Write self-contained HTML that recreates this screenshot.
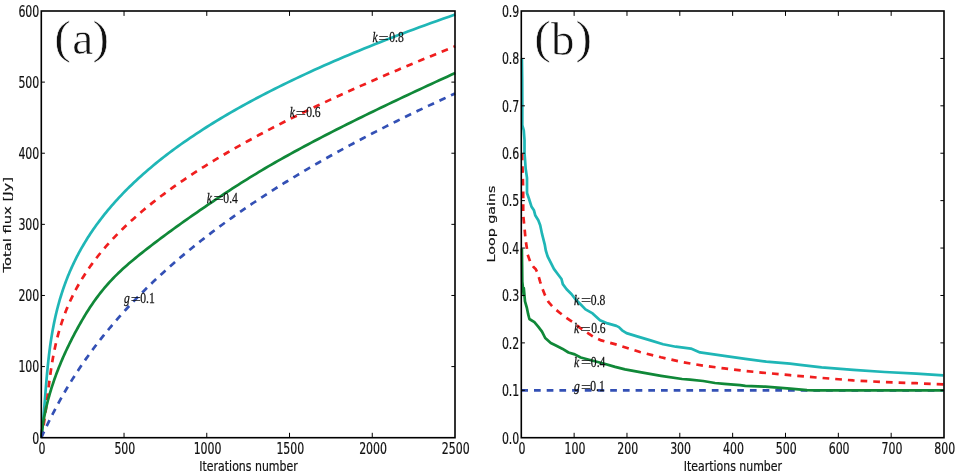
<!DOCTYPE html>
<html><head><meta charset="utf-8"><title>Total flux and loop gains</title><style>
html,body{margin:0;padding:0;background:#fff;width:958px;height:475px;overflow:hidden}
svg{display:block}
</style></head><body>
<svg width="958" height="475" viewBox="0 0 958 475">
<rect width="958" height="475" fill="#fff"/>
<g fill="#111" font-family="'Liberation Serif',serif" stroke="#fff" stroke-width="0.6">
<text transform="translate(54.2,52.9) scale(1.09,1)" font-size="45.5">(</text>
<text transform="translate(72.2,54.3) scale(1.02,1)" font-size="46.5">a</text>
<text transform="translate(92.6,52.9) scale(1.09,1)" font-size="45.5">)</text>
<text transform="translate(534.3,53.1) scale(1.09,1)" font-size="45.5">(</text>
<text transform="translate(550.9,54.6) scale(1.0,1)" font-size="47">b</text>
<text transform="translate(575.6,53.1) scale(1.09,1)" font-size="45.5">)</text>
</g>
<g fill="none" stroke-linejoin="round">
<polyline points="41.3,437.7 41.55,435.57 41.8,433.45 42.04,431.32 42.27,429.19 42.49,427.07 42.7,424.94 42.91,422.82 43.11,420.69 43.31,418.56 43.5,416.44 43.69,414.31 43.87,412.18 44.05,410.06 44.23,407.93 44.41,405.81 44.58,403.68 44.75,401.55 44.92,399.43 45.09,397.3 45.26,395.17 45.43,393.05 45.59,390.92 45.77,388.8 45.94,386.67 46.11,384.54 46.29,382.42 46.47,380.29 46.65,378.16 46.84,376.04 47.03,373.91 47.23,371.79 47.43,369.66 47.64,367.53 47.85,365.41 48.07,363.28 48.3,361.15 48.53,359.03 48.78,356.9 49.03,354.77 49.29,352.65 49.56,350.52 49.83,348.4 50.12,346.27 50.42,344.14 50.73,342.02 51.05,339.89 51.39,337.76 51.73,335.64 52.09,333.51 52.46,331.39 52.84,329.26 53.24,327.13 53.65,325.01 54.08,322.88 54.52,320.75 54.98,318.63 55.45,316.5 55.94,314.38 56.45,312.25 56.97,310.12 57.51,308 58.07,305.87 58.65,303.74 59.24,301.62 59.86,299.49 60.49,297.37 61.15,295.24 61.82,293.11 62.52,290.99 63.23,288.86 63.97,286.73 64.73,284.61 65.51,282.48 66.31,280.35 67.14,278.23 67.99,276.1 68.87,273.98 69.76,271.85 70.69,269.72 71.63,267.6 72.61,265.47 73.61,263.34 74.63,261.22 75.68,259.09 76.76,256.97 77.86,254.84 78.99,252.71 80.15,250.59 81.34,248.46 82.56,246.33 83.8,244.21 85.08,242.08 86.38,239.96 87.71,237.83 89.08,235.7 90.47,233.58 91.89,231.45 93.35,229.32 94.84,227.2 96.36,225.07 97.91,222.95 99.5,220.82 101.11,218.69 102.76,216.57 104.45,214.44 106.17,212.31 107.92,210.19 109.71,208.06 111.53,205.93 113.39,203.81 115.28,201.68 117.21,199.56 119.18,197.43 121.18,195.3 123.22,193.18 125.29,191.05 127.41,188.92 129.56,186.8 131.75,184.67 133.97,182.55 136.24,180.42 138.55,178.29 140.89,176.17 143.28,174.04 145.7,171.91 148.16,169.79 150.67,167.66 153.22,165.54 155.8,163.41 158.43,161.28 161.1,159.16 163.82,157.03 166.57,154.9 169.37,152.78 172.21,150.65 175.09,148.53 178.02,146.4 180.99,144.27 184,142.15 187.06,140.02 190.17,137.89 193.31,135.77 196.51,133.64 199.75,131.51 203.03,129.39 206.36,127.26 209.74,125.14 213.16,123.01 216.63,120.88 220.15,118.76 223.71,116.63 227.32,114.5 230.98,112.38 234.69,110.25 238.44,108.13 242.25,106 246.1,103.87 250,101.75 253.95,99.62 257.96,97.49 262.01,95.37 266.11,93.24 270.26,91.12 274.46,88.99 278.71,86.86 283.01,84.74 287.37,82.61 291.77,80.48 296.23,78.36 300.74,76.23 305.3,74.11 309.91,71.98 314.58,69.85 319.3,67.73 324.07,65.6 328.9,63.47 333.78,61.35 338.71,59.22 343.7,57.1 348.74,54.97 353.83,52.84 358.98,50.72 364.19,48.59 369.45,46.46 374.76,44.34 380.13,42.21 385.56,40.08 391.04,37.96 396.58,35.83 402.17,33.71 407.82,31.58 413.53,29.45 419.29,27.33 425.11,25.2 430.99,23.07 436.93,20.95 442.92,18.82 448.97,16.7 455.08,14.57" stroke="#1fb6b6" stroke-width="2.7"/>
<polyline points="41.3,437.7 41.7,435.73 42.08,433.77 42.45,431.8 42.81,429.83 43.15,427.87 43.49,425.9 43.8,423.93 44.11,421.97 44.41,420 44.7,418.03 44.99,416.06 45.26,414.1 45.53,412.13 45.79,410.16 46.05,408.2 46.3,406.23 46.55,404.26 46.79,402.3 47.04,400.33 47.28,398.36 47.52,396.4 47.76,394.43 48,392.46 48.24,390.5 48.48,388.53 48.72,386.56 48.97,384.59 49.22,382.63 49.48,380.66 49.74,378.69 50,376.73 50.28,374.76 50.56,372.79 50.84,370.83 51.14,368.86 51.44,366.89 51.75,364.93 52.07,362.96 52.4,360.99 52.75,359.03 53.1,357.06 53.47,355.09 53.84,353.12 54.24,351.16 54.64,349.19 55.06,347.22 55.5,345.26 55.94,343.29 56.41,341.32 56.89,339.36 57.39,337.39 57.9,335.42 58.44,333.46 58.99,331.49 59.56,329.52 60.15,327.56 60.75,325.59 61.38,323.62 62.03,321.65 62.7,319.69 63.39,317.72 64.1,315.75 64.84,313.79 65.59,311.82 66.37,309.85 67.18,307.89 68.01,305.92 68.86,303.95 69.73,301.99 70.63,300.02 71.56,298.05 72.51,296.09 73.49,294.12 74.5,292.15 75.53,290.18 76.59,288.22 77.67,286.25 78.78,284.28 79.93,282.32 81.1,280.35 82.29,278.38 83.52,276.42 84.78,274.45 86.06,272.48 87.38,270.52 88.72,268.55 90.1,266.58 91.51,264.62 92.94,262.65 94.41,260.68 95.91,258.71 97.44,256.75 99.01,254.78 100.6,252.81 102.23,250.85 103.89,248.88 105.58,246.91 107.31,244.95 109.07,242.98 110.86,241.01 112.68,239.05 114.54,237.08 116.43,235.11 118.36,233.15 120.32,231.18 122.31,229.21 124.34,227.24 126.4,225.28 128.5,223.31 130.63,221.34 132.8,219.38 135,217.41 137.24,215.44 139.51,213.48 141.81,211.51 144.16,209.54 146.53,207.58 148.94,205.61 151.39,203.64 153.88,201.68 156.39,199.71 158.95,197.74 161.54,195.78 164.16,193.81 166.82,191.84 169.52,189.87 172.25,187.91 175.02,185.94 177.82,183.97 180.66,182.01 183.54,180.04 186.45,178.07 189.39,176.11 192.38,174.14 195.39,172.17 198.44,170.21 201.53,168.24 204.65,166.27 207.81,164.31 211.01,162.34 214.23,160.37 217.5,158.4 220.8,156.44 224.13,154.47 227.5,152.5 230.9,150.54 234.33,148.57 237.8,146.6 241.31,144.64 244.85,142.67 248.42,140.7 252.03,138.74 255.67,136.77 259.34,134.8 263.05,132.84 266.79,130.87 270.56,128.9 274.36,126.93 278.2,124.97 282.07,123 285.97,121.03 289.91,119.07 293.87,117.1 297.87,115.13 301.9,113.17 305.95,111.2 310.04,109.23 314.16,107.27 318.31,105.3 322.49,103.33 326.7,101.37 330.94,99.4 335.2,97.43 339.5,95.46 343.82,93.5 348.18,91.53 352.56,89.56 356.96,87.6 361.4,85.63 365.86,83.66 370.35,81.7 374.86,79.73 379.4,77.76 383.96,75.8 388.55,73.83 393.17,71.86 397.8,69.9 402.47,67.93 407.15,65.96 411.86,63.99 416.59,62.03 421.35,60.06 426.12,58.09 430.92,56.13 435.74,54.16 440.57,52.19 445.43,50.23 450.31,48.26 455.21,46.29" stroke="#f01e1e" stroke-width="2.7" stroke-dasharray="6.7 6.0"/>
<polyline points="41.3,437.7 41.47,435.87 41.67,434.03 41.88,432.2 42.1,430.37 42.34,428.54 42.6,426.7 42.87,424.87 43.16,423.04 43.46,421.21 43.78,419.37 44.11,417.54 44.46,415.71 44.82,413.87 45.2,412.04 45.59,410.21 46,408.38 46.43,406.54 46.86,404.71 47.32,402.88 47.78,401.04 48.26,399.21 48.76,397.38 49.27,395.55 49.8,393.71 50.34,391.88 50.89,390.05 51.46,388.22 52.04,386.38 52.64,384.55 53.25,382.72 53.87,380.88 54.51,379.05 55.16,377.22 55.83,375.39 56.51,373.55 57.2,371.72 57.91,369.89 58.63,368.06 59.37,366.22 60.12,364.39 60.88,362.56 61.65,360.72 62.44,358.89 63.24,357.06 64.06,355.23 64.89,353.39 65.73,351.56 66.58,349.73 67.45,347.89 68.33,346.06 69.22,344.23 70.13,342.4 71.04,340.56 71.98,338.73 72.92,336.9 73.88,335.07 74.84,333.23 75.83,331.4 76.82,329.57 77.83,327.73 78.84,325.9 79.87,324.07 80.92,322.24 81.98,320.4 83.05,318.57 84.14,316.74 85.25,314.9 86.37,313.07 87.52,311.24 88.69,309.41 89.88,307.57 91.1,305.74 92.35,303.91 93.62,302.08 94.92,300.24 96.24,298.41 97.6,296.58 99,294.74 100.42,292.91 101.88,291.08 103.38,289.25 104.92,287.41 106.49,285.58 108.11,283.75 109.76,281.92 111.46,280.08 113.2,278.25 114.99,276.42 116.83,274.58 118.71,272.75 120.64,270.92 122.62,269.09 124.65,267.25 126.72,265.42 128.83,263.59 130.98,261.75 133.17,259.92 135.39,258.09 137.64,256.26 139.91,254.42 142.22,252.59 144.54,250.76 146.89,248.93 149.26,247.09 151.64,245.26 154.04,243.43 156.45,241.59 158.88,239.76 161.33,237.93 163.79,236.1 166.26,234.26 168.76,232.43 171.26,230.6 173.78,228.77 176.31,226.93 178.86,225.1 181.42,223.27 184,221.43 186.58,219.6 189.18,217.77 191.8,215.94 194.42,214.1 197.06,212.27 199.71,210.44 202.37,208.6 205.04,206.77 207.72,204.94 210.42,203.11 213.13,201.27 215.85,199.44 218.59,197.61 221.34,195.78 224.11,193.94 226.9,192.11 229.7,190.28 232.53,188.44 235.38,186.61 238.24,184.78 241.14,182.95 244.05,181.11 246.99,179.28 249.95,177.45 252.94,175.62 255.96,173.78 259.01,171.95 262.08,170.12 265.18,168.28 268.31,166.45 271.47,164.62 274.66,162.79 277.87,160.95 281.11,159.12 284.37,157.29 287.66,155.45 290.97,153.62 294.31,151.79 297.67,149.96 301.06,148.12 304.47,146.29 307.9,144.46 311.36,142.63 314.83,140.79 318.33,138.96 321.85,137.13 325.39,135.29 328.95,133.46 332.53,131.63 336.13,129.8 339.75,127.96 343.39,126.13 347.05,124.3 350.72,122.46 354.42,120.63 358.13,118.8 361.85,116.97 365.59,115.13 369.35,113.3 373.13,111.47 376.92,109.64 380.72,107.8 384.54,105.97 388.37,104.14 392.22,102.3 396.07,100.47 399.94,98.64 403.83,96.81 407.72,94.97 411.63,93.14 415.55,91.31 419.47,89.48 423.41,87.64 427.36,85.81 431.32,83.98 435.28,82.14 439.26,80.31 443.24,78.48 447.23,76.65 451.23,74.81 455.23,72.98" stroke="#108838" stroke-width="2.7"/>
<polyline points="41.3,437.7 42.08,435.97 42.86,434.24 43.66,432.51 44.46,430.78 45.27,429.05 46.08,427.32 46.91,425.59 47.74,423.86 48.58,422.14 49.43,420.41 50.29,418.68 51.16,416.95 52.04,415.22 52.92,413.49 53.82,411.76 54.72,410.03 55.63,408.3 56.56,406.57 57.49,404.84 58.43,403.11 59.38,401.38 60.34,399.65 61.31,397.92 62.29,396.19 63.28,394.46 64.28,392.73 65.29,391.01 66.31,389.28 67.34,387.55 68.38,385.82 69.43,384.09 70.49,382.36 71.56,380.63 72.64,378.9 73.74,377.17 74.84,375.44 75.96,373.71 77.08,371.98 78.22,370.25 79.37,368.52 80.53,366.79 81.7,365.06 82.88,363.33 84.08,361.61 85.28,359.88 86.5,358.15 87.73,356.42 88.97,354.69 90.23,352.96 91.49,351.23 92.77,349.5 94.06,347.77 95.37,346.04 96.68,344.31 98.01,342.58 99.35,340.85 100.7,339.12 102.07,337.39 103.45,335.66 104.84,333.93 106.24,332.2 107.66,330.48 109.09,328.75 110.54,327.02 111.99,325.29 113.46,323.56 114.95,321.83 116.44,320.1 117.96,318.37 119.48,316.64 121.02,314.91 122.57,313.18 124.14,311.45 125.72,309.72 127.31,307.99 128.92,306.26 130.55,304.53 132.18,302.8 133.83,301.07 135.5,299.35 137.18,297.62 138.88,295.89 140.59,294.16 142.31,292.43 144.05,290.7 145.8,288.97 147.57,287.24 149.36,285.51 151.16,283.78 152.97,282.05 154.8,280.32 156.65,278.59 158.51,276.86 160.38,275.13 162.27,273.4 164.18,271.67 166.1,269.95 168.04,268.22 169.99,266.49 171.96,264.76 173.95,263.03 175.95,261.3 177.97,259.57 180,257.84 182.05,256.11 184.12,254.38 186.2,252.65 188.3,250.92 190.42,249.19 192.55,247.46 194.7,245.73 196.86,244 199.04,242.27 201.24,240.54 203.45,238.82 205.69,237.09 207.94,235.36 210.2,233.63 212.48,231.9 214.78,230.17 217.1,228.44 219.44,226.71 221.79,224.98 224.16,223.25 226.54,221.52 228.95,219.79 231.37,218.06 233.81,216.33 236.26,214.6 238.74,212.87 241.23,211.14 243.74,209.42 246.27,207.69 248.81,205.96 251.38,204.23 253.96,202.5 256.56,200.77 259.17,199.04 261.81,197.31 264.46,195.58 267.14,193.85 269.83,192.12 272.54,190.39 275.26,188.66 278.01,186.93 280.77,185.2 283.56,183.47 286.36,181.74 289.18,180.01 292.02,178.29 294.87,176.56 297.75,174.83 300.65,173.1 303.56,171.37 306.49,169.64 309.45,167.91 312.42,166.18 315.41,164.45 318.42,162.72 321.45,160.99 324.5,159.26 327.56,157.53 330.65,155.8 333.76,154.07 336.88,152.34 340.03,150.61 343.19,148.89 346.38,147.16 349.58,145.43 352.8,143.7 356.05,141.97 359.31,140.24 362.59,138.51 365.9,136.78 369.22,135.05 372.56,133.32 375.92,131.59 379.31,129.86 382.71,128.13 386.13,126.4 389.57,124.67 393.04,122.94 396.52,121.21 400.02,119.48 403.55,117.76 407.09,116.03 410.65,114.3 414.24,112.57 417.84,110.84 421.47,109.11 425.11,107.38 428.78,105.65 432.47,103.92 436.17,102.19 439.9,100.46 443.65,98.73 447.42,97 451.21,95.27 455.02,93.54" stroke="#3350b5" stroke-width="2.7" stroke-dasharray="6.7 6.0"/>
</g>
<g fill="none" stroke-linejoin="round">
<line x1="521.3" y1="390.29" x2="944" y2="390.29" stroke="#3350b5" stroke-width="2.7" stroke-dasharray="6.7 6.0"/>
<polyline points="521.9,58.6 522.2,80 522.3,100 522.3,125 523.8,130.5 524.5,140 524.5,152.6 525.7,169 527,177.9 527,193 528.9,198.5 531.4,206.4 533.9,210.2 535.2,215.2 538.3,220.3 540.2,225.3 542.1,234.2 544.7,244.3 545.8,250.5 547.6,256.3 551.4,263.9 553.9,268.9 557.7,274 561.5,279 562.8,284.1 566.6,289.2 571.6,294.2 575.4,299.3 580.5,304.3 585.5,309.4 592.6,313.4 600,320.2 607.6,323.4 616.4,325.9 618.9,327.1 622.1,330.3 626.5,333.1 637.9,336.6 650.5,340.4 663.1,344.2 675.8,346.7 690.9,348.6 700,352.4 724.2,355.8 745.3,358.9 766.3,361.7 790,363.6 800,364.8 821.6,367.4 853.2,369.9 884.7,372 916.3,373.7 943.3,375.4" stroke="#1fb6b6" stroke-width="2.7"/>
<polyline points="522,153.5 522.6,170 523.2,190 523.2,215 524.5,227.9 525.7,240.5 527,249 527.6,254.5 530.8,263.3 533.5,267 535.6,268.9 537.5,272.7 540.1,281.6 542.6,289.2 545.1,295.5 548.6,302.2 553.7,307.8 559.7,312.7 566,317.7 573.6,322.8 580,327.9 583.8,330.4 591.3,335.4 594.4,337.3 601.3,340.4 615.8,344.4 640,352 661,357.3 682.1,362.1 703.2,365.7 724.2,368.4 745.3,371 766.3,373 790,375.2 821.6,377.9 853.2,380.4 884.7,382.1 916.3,383.2 943.3,384.4" stroke="#f01e1e" stroke-width="2.7" stroke-dasharray="6.7 6.0"/>
<polyline points="521.9,248.6 522.1,265 522.3,281.6 523.7,295 523.8,288 525,301.3 526.8,307.6 528.1,313.9 529.4,319 534.4,322.2 538.2,326.6 542,331.6 545.2,338 550.8,343 555.9,345.5 562.2,348.7 568.5,352.5 574.8,354.4 580.7,357.5 590,360 602.6,363.2 615.1,366.9 625,369.4 640,372.2 661,375.8 682.1,379 690,379.7 703.2,381 715,383 724.2,383.8 740.1,385.1 745.3,385.9 765.2,386.7 790.2,388.7 806.9,390.1 815.3,390.4 943.3,390.4" stroke="#108838" stroke-width="2.7"/>
</g>
<g font-family="'Liberation Serif',serif" font-size="15" fill="#111" stroke="#111" stroke-width="0.25"><text transform="translate(372.45,42.2) scale(0.775,1)" font-style="italic">k</text><text transform="translate(378.5,42.8) scale(1.2,1)">=</text><text transform="translate(389.24,42.2) scale(0.775,1)">0.8</text></g>
<g font-family="'Liberation Serif',serif" font-size="15" fill="#111" stroke="#111" stroke-width="0.25"><text transform="translate(289.65,117.2) scale(0.775,1)" font-style="italic">k</text><text transform="translate(295.7,117.8) scale(1.2,1)">=</text><text transform="translate(306.14,117.2) scale(0.775,1)">0.6</text></g>
<g font-family="'Liberation Serif',serif" font-size="15" fill="#111" stroke="#111" stroke-width="0.25"><text transform="translate(206.85,202.5) scale(0.775,1)" font-style="italic">k</text><text transform="translate(213.4,203.1) scale(1.2,1)">=</text><text transform="translate(223.34,202.5) scale(0.775,1)">0.4</text></g>
<g font-family="'Liberation Serif',serif" font-size="15" fill="#111" stroke="#111" stroke-width="0.25"><text transform="translate(124.1,303) scale(0.775,1)" font-style="italic">g</text><text transform="translate(130.7,303.6) scale(1.2,1)">=</text><text transform="translate(140.23,303) scale(0.775,1)">0.1</text></g>
<g font-family="'Liberation Serif',serif" font-size="15" fill="#111" stroke="#111" stroke-width="0.25"><text transform="translate(574.05,304.8) scale(0.775,1)" font-style="italic">k</text><text transform="translate(581,305.4) scale(1.2,1)">=</text><text transform="translate(590.83,304.8) scale(0.775,1)">0.8</text></g>
<g font-family="'Liberation Serif',serif" font-size="15" fill="#111" stroke="#111" stroke-width="0.25"><text transform="translate(574.05,332.9) scale(0.775,1)" font-style="italic">k</text><text transform="translate(580.6,333.5) scale(1.2,1)">=</text><text transform="translate(591.13,332.9) scale(0.775,1)">0.6</text></g>
<g font-family="'Liberation Serif',serif" font-size="15" fill="#111" stroke="#111" stroke-width="0.25"><text transform="translate(574.05,366.6) scale(0.775,1)" font-style="italic">k</text><text transform="translate(581,367.2) scale(1.2,1)">=</text><text transform="translate(590.83,366.6) scale(0.775,1)">0.4</text></g>
<g font-family="'Liberation Serif',serif" font-size="15" fill="#111" stroke="#111" stroke-width="0.25"><text transform="translate(574.1,390.9) scale(0.775,1)" font-style="italic">g</text><text transform="translate(581,391.5) scale(1.2,1)">=</text><text transform="translate(590.24,390.9) scale(0.775,1)">0.1</text></g>
<g stroke="#000" stroke-width="1" fill="none">
<path d="M124.04 437.7v-4.9M124.04 11v4.9"/>
<path d="M206.78 437.7v-4.9M206.78 11v4.9"/>
<path d="M289.52 437.7v-4.9M289.52 11v4.9"/>
<path d="M372.26 437.7v-4.9M372.26 11v4.9"/>
<path d="M41.3 366.58h3.6M455 366.58h-3.6"/>
<path d="M41.3 295.47h3.6M455 295.47h-3.6"/>
<path d="M41.3 224.35h3.6M455 224.35h-3.6"/>
<path d="M41.3 153.23h3.6M455 153.23h-3.6"/>
<path d="M41.3 82.12h3.6M455 82.12h-3.6"/>
<path d="M574.14 437.7v-4.9M574.14 11v4.9"/>
<path d="M626.97 437.7v-4.9M626.97 11v4.9"/>
<path d="M679.81 437.7v-4.9M679.81 11v4.9"/>
<path d="M732.65 437.7v-4.9M732.65 11v4.9"/>
<path d="M785.49 437.7v-4.9M785.49 11v4.9"/>
<path d="M838.33 437.7v-4.9M838.33 11v4.9"/>
<path d="M891.16 437.7v-4.9M891.16 11v4.9"/>
<path d="M521.3 390.29h3.6M944 390.29h-3.6"/>
<path d="M521.3 342.88h3.6M944 342.88h-3.6"/>
<path d="M521.3 295.47h3.6M944 295.47h-3.6"/>
<path d="M521.3 248.06h3.6M944 248.06h-3.6"/>
<path d="M521.3 200.64h3.6M944 200.64h-3.6"/>
<path d="M521.3 153.23h3.6M944 153.23h-3.6"/>
<path d="M521.3 105.82h3.6M944 105.82h-3.6"/>
<path d="M521.3 58.41h3.6M944 58.41h-3.6"/>
</g>
<rect x="41.3" y="11" width="413.7" height="426.7" fill="none" stroke="#000" stroke-width="1.6"/>
<rect x="521.3" y="11" width="422.7" height="426.7" fill="none" stroke="#000" stroke-width="1.6"/>
<g fill="#111" stroke="#111" stroke-width="0.22">
<text transform="translate(42.1,453.6) scale(0.73,1)" text-anchor="middle" font-size="15.0" font-family="'DejaVu Sans','Liberation Sans',sans-serif">0</text>
<text transform="translate(124.84,453.6) scale(0.73,1)" text-anchor="middle" font-size="15.0" font-family="'DejaVu Sans','Liberation Sans',sans-serif">500</text>
<text transform="translate(207.58,453.6) scale(0.73,1)" text-anchor="middle" font-size="15.0" font-family="'DejaVu Sans','Liberation Sans',sans-serif">1000</text>
<text transform="translate(290.32,453.6) scale(0.73,1)" text-anchor="middle" font-size="15.0" font-family="'DejaVu Sans','Liberation Sans',sans-serif">1500</text>
<text transform="translate(373.06,453.6) scale(0.73,1)" text-anchor="middle" font-size="15.0" font-family="'DejaVu Sans','Liberation Sans',sans-serif">2000</text>
<text transform="translate(455.8,453.6) scale(0.73,1)" text-anchor="middle" font-size="15.0" font-family="'DejaVu Sans','Liberation Sans',sans-serif">2500</text>
<text transform="translate(39.3,443.55) scale(0.73,1)" text-anchor="end" font-size="15.0" font-family="'DejaVu Sans','Liberation Sans',sans-serif">0</text>
<text transform="translate(39.3,372.43) scale(0.73,1)" text-anchor="end" font-size="15.0" font-family="'DejaVu Sans','Liberation Sans',sans-serif">100</text>
<text transform="translate(39.3,301.32) scale(0.73,1)" text-anchor="end" font-size="15.0" font-family="'DejaVu Sans','Liberation Sans',sans-serif">200</text>
<text transform="translate(39.3,230.2) scale(0.73,1)" text-anchor="end" font-size="15.0" font-family="'DejaVu Sans','Liberation Sans',sans-serif">300</text>
<text transform="translate(39.3,159.08) scale(0.73,1)" text-anchor="end" font-size="15.0" font-family="'DejaVu Sans','Liberation Sans',sans-serif">400</text>
<text transform="translate(39.3,87.97) scale(0.73,1)" text-anchor="end" font-size="15.0" font-family="'DejaVu Sans','Liberation Sans',sans-serif">500</text>
<text transform="translate(39.3,16.85) scale(0.73,1)" text-anchor="end" font-size="15.0" font-family="'DejaVu Sans','Liberation Sans',sans-serif">600</text>
<text transform="translate(522.1,453.6) scale(0.73,1)" text-anchor="middle" font-size="15.0" font-family="'DejaVu Sans','Liberation Sans',sans-serif">0</text>
<text transform="translate(574.94,453.6) scale(0.73,1)" text-anchor="middle" font-size="15.0" font-family="'DejaVu Sans','Liberation Sans',sans-serif">100</text>
<text transform="translate(627.77,453.6) scale(0.73,1)" text-anchor="middle" font-size="15.0" font-family="'DejaVu Sans','Liberation Sans',sans-serif">200</text>
<text transform="translate(680.61,453.6) scale(0.73,1)" text-anchor="middle" font-size="15.0" font-family="'DejaVu Sans','Liberation Sans',sans-serif">300</text>
<text transform="translate(733.45,453.6) scale(0.73,1)" text-anchor="middle" font-size="15.0" font-family="'DejaVu Sans','Liberation Sans',sans-serif">400</text>
<text transform="translate(786.29,453.6) scale(0.73,1)" text-anchor="middle" font-size="15.0" font-family="'DejaVu Sans','Liberation Sans',sans-serif">500</text>
<text transform="translate(839.12,453.6) scale(0.73,1)" text-anchor="middle" font-size="15.0" font-family="'DejaVu Sans','Liberation Sans',sans-serif">600</text>
<text transform="translate(891.96,453.6) scale(0.73,1)" text-anchor="middle" font-size="15.0" font-family="'DejaVu Sans','Liberation Sans',sans-serif">700</text>
<text transform="translate(944.8,453.6) scale(0.73,1)" text-anchor="middle" font-size="15.0" font-family="'DejaVu Sans','Liberation Sans',sans-serif">800</text>
<text transform="translate(519.3,443.55) scale(0.73,1)" text-anchor="end" font-size="15.0" font-family="'DejaVu Sans','Liberation Sans',sans-serif">0.0</text>
<text transform="translate(519.3,396.14) scale(0.73,1)" text-anchor="end" font-size="15.0" font-family="'DejaVu Sans','Liberation Sans',sans-serif">0.1</text>
<text transform="translate(519.3,348.73) scale(0.73,1)" text-anchor="end" font-size="15.0" font-family="'DejaVu Sans','Liberation Sans',sans-serif">0.2</text>
<text transform="translate(519.3,301.32) scale(0.73,1)" text-anchor="end" font-size="15.0" font-family="'DejaVu Sans','Liberation Sans',sans-serif">0.3</text>
<text transform="translate(519.3,253.91) scale(0.73,1)" text-anchor="end" font-size="15.0" font-family="'DejaVu Sans','Liberation Sans',sans-serif">0.4</text>
<text transform="translate(519.3,206.49) scale(0.73,1)" text-anchor="end" font-size="15.0" font-family="'DejaVu Sans','Liberation Sans',sans-serif">0.5</text>
<text transform="translate(519.3,159.08) scale(0.73,1)" text-anchor="end" font-size="15.0" font-family="'DejaVu Sans','Liberation Sans',sans-serif">0.6</text>
<text transform="translate(519.3,111.67) scale(0.73,1)" text-anchor="end" font-size="15.0" font-family="'DejaVu Sans','Liberation Sans',sans-serif">0.7</text>
<text transform="translate(519.3,64.26) scale(0.73,1)" text-anchor="end" font-size="15.0" font-family="'DejaVu Sans','Liberation Sans',sans-serif">0.8</text>
<text transform="translate(519.3,16.85) scale(0.73,1)" text-anchor="end" font-size="15.0" font-family="'DejaVu Sans','Liberation Sans',sans-serif">0.9</text>
<text transform="translate(248.5,470.7) scale(0.745,1)" text-anchor="middle" font-size="14.7" font-family="'DejaVu Sans','Liberation Sans',sans-serif">Iterations number</text>
<text transform="translate(732.9,470.7) scale(0.745,1)" text-anchor="middle" font-size="14.7" font-family="'DejaVu Sans','Liberation Sans',sans-serif">Iteartions number</text>
<text transform="translate(11.3,224.8) scale(0.745,1) rotate(-90)" text-anchor="middle" font-size="14.7" font-family="'DejaVu Sans','Liberation Sans',sans-serif">Total flux [Jy]</text>
<text transform="translate(494.5,224) scale(0.765,1) rotate(-90)" text-anchor="middle" font-size="14.3" font-family="'DejaVu Sans','Liberation Sans',sans-serif">Loop gains</text>
</g>
</svg>
</body></html>
